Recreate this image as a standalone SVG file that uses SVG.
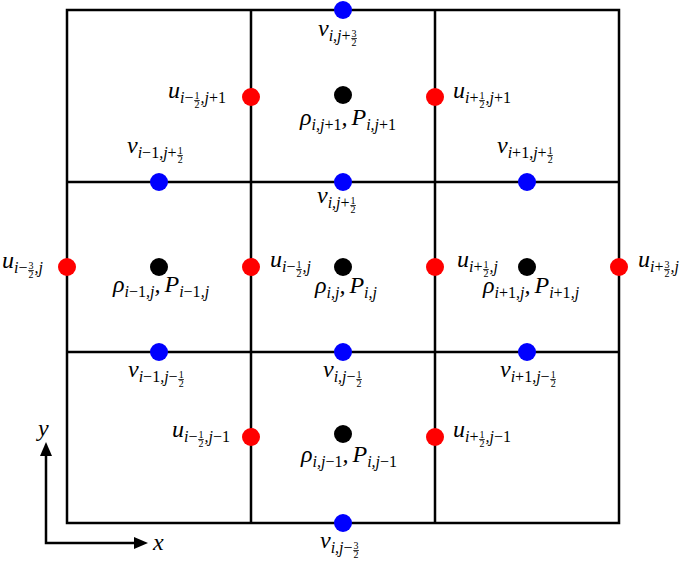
<svg xmlns="http://www.w3.org/2000/svg" width="685" height="561" viewBox="0 0 685 561">
<defs>
<circle id="rd" r="9" fill="#f00"/>
<circle id="bd" r="9" fill="#00f"/>
<circle id="kd" r="9" fill="#000"/>
</defs>
<rect width="685" height="561" fill="#fff"/>
<g id="grid" stroke="#000" stroke-width="2.5" fill="none">
<rect x="67" y="10" width="552" height="513"/>
<line x1="251" y1="10" x2="251" y2="523"/>
<line x1="435" y1="10" x2="435" y2="523"/>
<line x1="67" y1="182" x2="619" y2="182"/>
<line x1="67" y1="352" x2="619" y2="352"/>
</g>
<g id="axes" font-family="Liberation Serif, serif" font-style="italic" font-size="24">
<path d="M46,454 L46,543 L136,543" stroke="#000" stroke-width="2.5" fill="none"/>
<path d="M46,442 L40,456 L52,456 Z" fill="#000"/>
<path d="M148,543 L134,537 L134,549 Z" fill="#000"/>
<text x="38" y="436">y</text>
<text x="153" y="550">x</text>
</g>
<g id="nodes" font-family="Liberation Serif, serif" font-style="italic" font-size="24" fill="#000">
<g id="v_i_jp32"><use href="#bd" x="343" y="10"/>
<text x="318" y="36">v<tspan font-size="16" dy="5">i,j</tspan><tspan font-size="16" font-style="normal">+</tspan><tspan font-size="10" font-style="normal" dx="1" dy="-4">3</tspan><tspan font-size="10" font-style="normal" dx="-5" dy="9">2</tspan></text>
<line stroke="#000" stroke-width="0.8" x1="351.3" y1="38.5" x2="356.9" y2="38.5"/></g>

<g id="u_im12_jp1"><use href="#rd" x="251" y="97"/>
<text x="168" y="98">u<tspan font-size="16" dy="5">i</tspan><tspan font-size="16" font-style="normal">−</tspan><tspan font-size="10" font-style="normal" dx="1" dy="-4">1</tspan><tspan font-size="10" font-style="normal" dx="-5" dy="9">2</tspan><tspan font-size="16" dx="1" dy="-5">,j</tspan><tspan font-size="16" font-style="normal">+1</tspan></text>
<line stroke="#000" stroke-width="0.8" x1="194.2" y1="100.5" x2="199.8" y2="100.5"/></g>

<g id="rho_i_jp1"><use href="#kd" x="343" y="95"/>
<text x="300" y="125">ρ<tspan font-size="16" dy="5">i,j</tspan><tspan font-size="16" font-style="normal">+1</tspan><tspan dy="-5">,</tspan><tspan dx="4">P</tspan><tspan font-size="16" dy="5">i,j</tspan><tspan font-size="16" font-style="normal">+1</tspan></text></g>

<g id="u_ip12_jp1"><use href="#rd" x="435" y="97"/>
<text x="453" y="98">u<tspan font-size="16" dy="5">i</tspan><tspan font-size="16" font-style="normal">+</tspan><tspan font-size="10" font-style="normal" dx="1" dy="-4">1</tspan><tspan font-size="10" font-style="normal" dx="-5" dy="9">2</tspan><tspan font-size="16" dx="1" dy="-5">,j</tspan><tspan font-size="16" font-style="normal">+1</tspan></text>
<line stroke="#000" stroke-width="0.8" x1="479.2" y1="100.5" x2="484.8" y2="100.5"/></g>

<g id="v_im1_jp12"><use href="#bd" x="159" y="182"/>
<text x="127" y="153">v<tspan font-size="16" dy="5">i</tspan><tspan font-size="16" font-style="normal">−1</tspan><tspan font-size="16">,j</tspan><tspan font-size="16" font-style="normal">+</tspan><tspan font-size="10" font-style="normal" dx="1" dy="-4">1</tspan><tspan font-size="10" font-style="normal" dx="-5" dy="9">2</tspan></text>
<line stroke="#000" stroke-width="0.8" x1="177.3" y1="155.5" x2="182.9" y2="155.5"/></g>

<g id="v_i_jp12"><use href="#bd" x="343" y="182"/>
<text x="317" y="203">v<tspan font-size="16" dy="5">i,j</tspan><tspan font-size="16" font-style="normal">+</tspan><tspan font-size="10" font-style="normal" dx="1" dy="-4">1</tspan><tspan font-size="10" font-style="normal" dx="-5" dy="9">2</tspan></text>
<line stroke="#000" stroke-width="0.8" x1="350.3" y1="205.5" x2="355.9" y2="205.5"/></g>

<g id="v_ip1_jp12"><use href="#bd" x="527" y="182"/>
<text x="497" y="153">v<tspan font-size="16" dy="5">i</tspan><tspan font-size="16" font-style="normal">+1</tspan><tspan font-size="16">,j</tspan><tspan font-size="16" font-style="normal">+</tspan><tspan font-size="10" font-style="normal" dx="1" dy="-4">1</tspan><tspan font-size="10" font-style="normal" dx="-5" dy="9">2</tspan></text>
<line stroke="#000" stroke-width="0.8" x1="547.3" y1="155.5" x2="552.9" y2="155.5"/></g>

<g id="u_im32_j"><use href="#rd" x="67" y="267"/>
<text x="2" y="268">u<tspan font-size="16" dy="5">i</tspan><tspan font-size="16" font-style="normal">−</tspan><tspan font-size="10" font-style="normal" dx="1" dy="-4">3</tspan><tspan font-size="10" font-style="normal" dx="-5" dy="9">2</tspan><tspan font-size="16" dx="1" dy="-5">,j</tspan></text>
<line stroke="#000" stroke-width="0.8" x1="28.2" y1="270.5" x2="33.8" y2="270.5"/></g>

<g id="rho_im1_j"><use href="#kd" x="159" y="267"/>
<text x="113" y="292">ρ<tspan font-size="16" dy="5">i</tspan><tspan font-size="16" font-style="normal">−1</tspan><tspan font-size="16">,j</tspan><tspan dy="-5">,</tspan><tspan dx="4">P</tspan><tspan font-size="16" dy="5">i</tspan><tspan font-size="16" font-style="normal">−1</tspan><tspan font-size="16">,j</tspan></text></g>

<g id="u_im12_j"><use href="#rd" x="251" y="267"/>
<text x="270" y="267">u<tspan font-size="16" dy="5">i</tspan><tspan font-size="16" font-style="normal">−</tspan><tspan font-size="10" font-style="normal" dx="1" dy="-4">1</tspan><tspan font-size="10" font-style="normal" dx="-5" dy="9">2</tspan><tspan font-size="16" dx="1" dy="-5">,j</tspan></text>
<line stroke="#000" stroke-width="0.8" x1="296.2" y1="269.5" x2="301.8" y2="269.5"/></g>

<g id="rho_i_j"><use href="#kd" x="343" y="267"/>
<text x="315" y="293">ρ<tspan font-size="16" dy="5">i,j</tspan><tspan dy="-5">,</tspan><tspan dx="4">P</tspan><tspan font-size="16" dy="5">i,j</tspan></text></g>

<g id="u_ip12_j"><use href="#rd" x="435" y="267"/>
<text x="457" y="267">u<tspan font-size="16" dy="5">i</tspan><tspan font-size="16" font-style="normal">+</tspan><tspan font-size="10" font-style="normal" dx="1" dy="-4">1</tspan><tspan font-size="10" font-style="normal" dx="-5" dy="9">2</tspan><tspan font-size="16" dx="1" dy="-5">,j</tspan></text>
<line stroke="#000" stroke-width="0.8" x1="483.2" y1="269.5" x2="488.8" y2="269.5"/></g>

<g id="rho_ip1_j"><use href="#kd" x="527" y="267"/>
<text x="483" y="293">ρ<tspan font-size="16" dy="5">i</tspan><tspan font-size="16" font-style="normal">+1</tspan><tspan font-size="16">,j</tspan><tspan dy="-5">,</tspan><tspan dx="4">P</tspan><tspan font-size="16" dy="5">i</tspan><tspan font-size="16" font-style="normal">+1</tspan><tspan font-size="16">,j</tspan></text></g>

<g id="u_ip32_j"><use href="#rd" x="619" y="267"/>
<text x="638" y="267">u<tspan font-size="16" dy="5">i</tspan><tspan font-size="16" font-style="normal">+</tspan><tspan font-size="10" font-style="normal" dx="1" dy="-4">3</tspan><tspan font-size="10" font-style="normal" dx="-5" dy="9">2</tspan><tspan font-size="16" dx="1" dy="-5">,j</tspan></text>
<line stroke="#000" stroke-width="0.8" x1="664.2" y1="269.5" x2="669.8" y2="269.5"/></g>

<g id="v_im1_jm12"><use href="#bd" x="159" y="352"/>
<text x="128" y="377">v<tspan font-size="16" dy="5">i</tspan><tspan font-size="16" font-style="normal">−1</tspan><tspan font-size="16">,j</tspan><tspan font-size="16" font-style="normal">−</tspan><tspan font-size="10" font-style="normal" dx="1" dy="-4">1</tspan><tspan font-size="10" font-style="normal" dx="-5" dy="9">2</tspan></text>
<line stroke="#000" stroke-width="0.8" x1="178.3" y1="379.5" x2="183.9" y2="379.5"/></g>

<g id="v_i_jm12"><use href="#bd" x="343" y="352"/>
<text x="323" y="377">v<tspan font-size="16" dy="5">i,j</tspan><tspan font-size="16" font-style="normal">−</tspan><tspan font-size="10" font-style="normal" dx="1" dy="-4">1</tspan><tspan font-size="10" font-style="normal" dx="-5" dy="9">2</tspan></text>
<line stroke="#000" stroke-width="0.8" x1="356.3" y1="379.5" x2="361.9" y2="379.5"/></g>

<g id="v_ip1_jm12"><use href="#bd" x="527" y="352"/>
<text x="500" y="377">v<tspan font-size="16" dy="5">i</tspan><tspan font-size="16" font-style="normal">+1</tspan><tspan font-size="16">,j</tspan><tspan font-size="16" font-style="normal">−</tspan><tspan font-size="10" font-style="normal" dx="1" dy="-4">1</tspan><tspan font-size="10" font-style="normal" dx="-5" dy="9">2</tspan></text>
<line stroke="#000" stroke-width="0.8" x1="550.3" y1="379.5" x2="555.9" y2="379.5"/></g>

<g id="u_im12_jm1"><use href="#rd" x="251" y="437"/>
<text x="172" y="437">u<tspan font-size="16" dy="5">i</tspan><tspan font-size="16" font-style="normal">−</tspan><tspan font-size="10" font-style="normal" dx="1" dy="-4">1</tspan><tspan font-size="10" font-style="normal" dx="-5" dy="9">2</tspan><tspan font-size="16" dx="1" dy="-5">,j</tspan><tspan font-size="16" font-style="normal">−1</tspan></text>
<line stroke="#000" stroke-width="0.8" x1="198.2" y1="439.5" x2="203.8" y2="439.5"/></g>

<g id="rho_i_jm1"><use href="#kd" x="343" y="434"/>
<text x="301" y="462">ρ<tspan font-size="16" dy="5">i,j</tspan><tspan font-size="16" font-style="normal">−1</tspan><tspan dy="-5">,</tspan><tspan dx="4">P</tspan><tspan font-size="16" dy="5">i,j</tspan><tspan font-size="16" font-style="normal">−1</tspan></text></g>

<g id="u_ip12_jm1"><use href="#rd" x="435" y="437"/>
<text x="453" y="437">u<tspan font-size="16" dy="5">i</tspan><tspan font-size="16" font-style="normal">+</tspan><tspan font-size="10" font-style="normal" dx="1" dy="-4">1</tspan><tspan font-size="10" font-style="normal" dx="-5" dy="9">2</tspan><tspan font-size="16" dx="1" dy="-5">,j</tspan><tspan font-size="16" font-style="normal">−1</tspan></text>
<line stroke="#000" stroke-width="0.8" x1="479.2" y1="439.5" x2="484.8" y2="439.5"/></g>

<g id="v_i_jm32"><use href="#bd" x="343" y="523"/>
<text x="320" y="548">v<tspan font-size="16" dy="5">i,j</tspan><tspan font-size="16" font-style="normal">−</tspan><tspan font-size="10" font-style="normal" dx="1" dy="-4">3</tspan><tspan font-size="10" font-style="normal" dx="-5" dy="9">2</tspan></text>
<line stroke="#000" stroke-width="0.8" x1="353.3" y1="550.5" x2="358.9" y2="550.5"/></g>
</g>
</svg>
